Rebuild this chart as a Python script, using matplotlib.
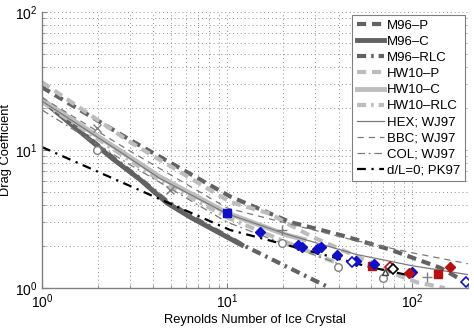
import matplotlib
matplotlib.use("Agg")
import matplotlib.pyplot as plt
from matplotlib.ticker import LogLocator, NullFormatter

plt.rcParams['font.family'] = ['Liberation Sans', 'DejaVu Sans']

# --- parameterisation curves (Reynolds number, drag coefficient) ---
m96_p_re = [1, 3, 10.4, 22, 41, 76, 142, 200]
m96_p_cd = [28.5, 11.8, 4.6, 3.0, 2.42, 1.9, 1.4, 1.08]

m96_c_re = [1, 2.42, 3.39, 4.74, 6.3, 12]
m96_c_cd = [23, 8.6, 6.1, 4.13, 3.27, 2.05]

m96_rlc_re = [1, 2.42, 3.39, 4.74, 6.3, 12.8, 36]
m96_rlc_cd = [23.5, 8.8, 6.2, 4.25, 3.35, 1.98, 1.0]

hw10_p_re = [1, 3, 10.4, 17.1, 21, 29, 50, 76, 106, 150]
hw10_p_cd = [31, 11.4, 4.2, 3.45, 2.95, 2.34, 1.7, 1.3, 1.1, 1.0]

hw10_c_re = [1, 2.64, 4.35, 10, 21, 26]
hw10_c_cd = [23, 9.9, 6.37, 3.5, 2.42, 2.25]

hw10_rlc_re = [1, 2.64, 4.35, 10, 20, 40]
hw10_rlc_cd = [22.3, 9.4, 6.0, 3.25, 2.2, 1.5]

hex_re = [1, 2.64, 4.35, 10, 21, 50, 100, 200]
hex_cd = [22.6, 9.7, 6.2, 3.45, 2.45, 1.75, 1.45, 1.25]

bbc_re = [1, 3, 10, 22, 50, 100, 200]
bbc_cd = [24, 9.8, 3.8, 2.9, 2.2, 1.8, 1.5]

col_re = [1, 3, 10, 20, 40]
col_cd = [19.5, 7.8, 3.0, 2.1, 1.5]

pk97_re = [1, 5.1, 10.4, 59, 95]
pk97_cd = [10.5, 4.0, 2.63, 1.42, 1.24]

# --- measurements ---
blue_sq_re = [10]
blue_sq_cd = [3.49]
red_sq_re = [61, 138]
red_sq_cd = [1.44, 1.26]
blue_dia_re = [15.0, 24.2, 25.4, 30.6, 32.3, 39.3, 49.6, 62.4, 100]
blue_dia_cd = [2.55, 2.05, 1.98, 1.92, 1.98, 1.73, 1.57, 1.49, 1.31]
red_dia_re = [95.6, 160]
red_dia_cd = [1.28, 1.42]
blue_open_dia_re = [47.5, 196]
blue_open_dia_cd = [1.54, 1.1]
red_open_dia_re = [76]
red_open_dia_cd = [1.42]
black_open_dia_re = [79]
black_open_dia_cd = [1.37]
circle_re = [1.98, 19.8, 39.8, 70]
circle_cd = [10, 2.12, 1.42, 1.18]
cross_re = [1.98, 4.9]
cross_cd = [14.4, 5.1]
plus_re = [19.8, 121]
plus_cd = [2.63, 1.2]
tri_re = [71]
tri_cd = [1.31]

dark = '#626262'
light = '#bdbdbd'
thin = '#7a7a7a'

fig = plt.figure(figsize=(4.74, 3.29), dpi=100)
ax = fig.add_axes([0.0886, 0.1246, 0.8985, 0.8389])

ax.plot(m96_p_re, m96_p_cd, color=dark, lw=3, ls=(0, (2.2, 1.4)), label='M96–P')
ax.plot(m96_c_re, m96_c_cd, color=dark, lw=3.5, ls='-', label='M96–C')
ax.plot(m96_rlc_re, m96_rlc_cd, color=dark, lw=3, ls=(0, (2.2, 1.2, 0.6, 1.2)), label='M96–RLC')
ax.plot(hw10_p_re, hw10_p_cd, color=light, lw=3, ls=(0, (2.2, 1.4)), label='HW10–P')
ax.plot(hw10_c_re, hw10_c_cd, color=light, lw=3.5, ls='-', label='HW10–C')
ax.plot(hw10_rlc_re, hw10_rlc_cd, color=light, lw=3, ls=(0, (2.2, 1.2, 0.6, 1.2)), label='HW10–RLC')
ax.plot(hex_re, hex_cd, color=thin, lw=0.9, ls='-', label='HEX; WJ97')
ax.plot(bbc_re, bbc_cd, color=thin, lw=0.9, ls=(0, (5, 4)), label='BBC; WJ97')
ax.plot(col_re, col_cd, color=thin, lw=0.9, ls=(0, (6, 3, 1.5, 3)), label='COL; WJ97')
ax.plot(pk97_re, pk97_cd, color='black', lw=1.6, ls=(0, (4, 2.5, 1, 2.5)), label='d/L=0; PK97')

mk = dict(ls='none', ms=5.5, zorder=5)
ax.plot(blue_sq_re, blue_sq_cd, marker='s', color='#1010c8', **mk)
ax.plot(red_sq_re, red_sq_cd, marker='s', color='#b81010', **mk)
ax.plot(blue_dia_re, blue_dia_cd, marker='D', color='#1010c8', **mk)
ax.plot(red_dia_re, red_dia_cd, marker='D', color='#b81010', **mk)
ax.plot(blue_open_dia_re, blue_open_dia_cd, marker='D', mfc='white', mec='#1010c8', mew=1.2, **mk)
ax.plot(red_open_dia_re, red_open_dia_cd, marker='D', mfc='white', mec='#b81010', mew=1.2, **mk)
ax.plot(black_open_dia_re, black_open_dia_cd, marker='D', mfc='white', mec='black', mew=1.2, **mk)
ax.plot(circle_re, circle_cd, marker='o', mfc='white', mec='#808080', ls='none', ms=5.5, zorder=5)
ax.plot(cross_re, cross_cd, marker='x', color='#808080', ls='none', ms=5.5, zorder=5)
ax.plot(plus_re, plus_cd, marker='+', color='#808080', ls='none', ms=6.5, zorder=5)
ax.plot(tri_re, tri_cd, marker='^', mfc='white', mec='#404040', ls='none', ms=5, zorder=5)

ax.set_xscale('log')
ax.set_yscale('log')
ax.set_xlim(1, 200)
ax.set_ylim(1, 100)
ax.xaxis.set_major_locator(LogLocator(base=10, numticks=10))
ax.yaxis.set_major_locator(LogLocator(base=10, numticks=10))
ax.xaxis.set_minor_locator(LogLocator(base=10, subs=range(2, 10), numticks=10))
ax.yaxis.set_minor_locator(LogLocator(base=10, subs=range(2, 10), numticks=10))
ax.xaxis.set_minor_formatter(NullFormatter())
ax.yaxis.set_minor_formatter(NullFormatter())
ax.grid(True, which='both', ls=(0, (1, 3)), color='#909090', lw=0.7)

for s in ['top', 'right']:
    ax.spines[s].set_visible(False)
for s in ['left', 'bottom']:
    ax.spines[s].set_color('#808080')
    ax.spines[s].set_linewidth(1.0)
ax.tick_params(which='both', direction='in', colors='#808080', labelcolor='black', labelsize=10)
ax.tick_params(which='minor', length=2)

ax.set_xlabel('Reynolds Number of Ice Crystal', fontsize=9.3, labelpad=2)
ax.set_ylabel('Drag Coefficient', fontsize=9.3)
ax.yaxis.set_label_coords(-0.071, 0.5)

leg = ax.legend(loc='upper right', fontsize=9.5, handlelength=2.05, handletextpad=0.25,
                labelspacing=0.29, borderpad=0.35, borderaxespad=0, fancybox=False,
                framealpha=1, edgecolor='#808080', bbox_to_anchor=(0.9937, 0.989))
leg.get_frame().set_linewidth(0.8)

fig.savefig('out.png', dpi=100)
